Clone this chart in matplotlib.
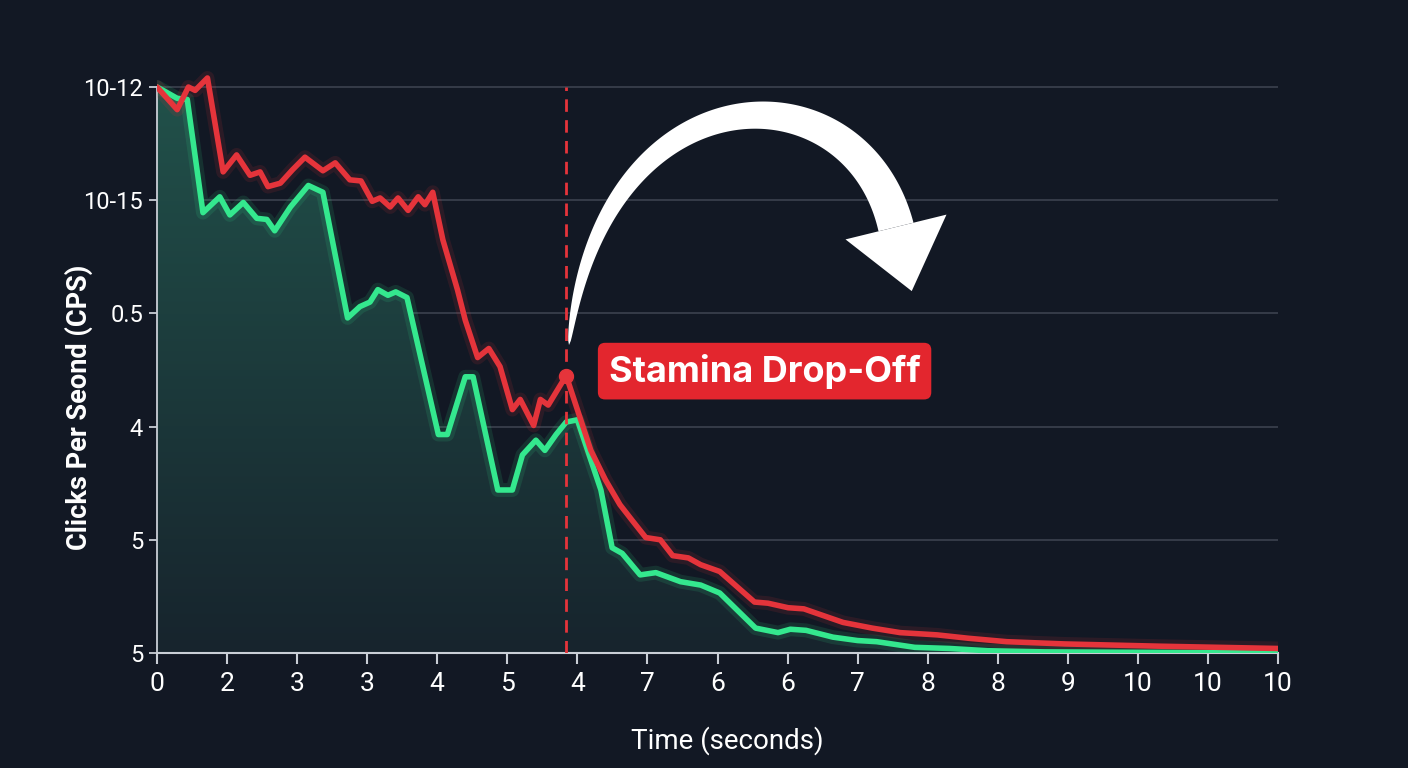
import numpy as np
import matplotlib.pyplot as plt
from matplotlib.patches import Polygon

# ---- data ----
red_t = [0.00, 0.18, 0.28, 0.34, 0.45, 0.59, 0.71, 0.83, 0.92, 0.99, 1.10, 1.21, 1.32,
         1.48, 1.59, 1.72, 1.82, 1.92, 1.99, 2.08, 2.15, 2.24, 2.33, 2.39, 2.46, 2.55,
         2.68, 2.75, 2.86, 2.96, 3.06, 3.17, 3.24, 3.36, 3.42, 3.49, 3.65, 3.87, 4.00,
         4.13, 4.24, 4.36, 4.49, 4.60, 4.74, 4.85, 5.02, 5.33, 5.45, 5.63, 5.77, 6.12,
         6.38, 6.63, 6.96, 7.24, 7.58, 8.10, 8.95, 10.0]
red_cps = [5.00, 4.80, 5.00, 4.97, 5.08, 4.25, 4.40, 4.22, 4.25, 4.12, 4.15, 4.27, 4.38,
           4.26, 4.33, 4.18, 4.17, 3.99, 4.02, 3.94, 4.02, 3.91, 4.03, 3.96, 4.07, 3.65,
           3.21, 2.94, 2.61, 2.69, 2.53, 2.15, 2.24, 2.01, 2.24, 2.19, 2.45, 1.79, 1.53,
           1.31, 1.17, 1.02, 1.00, 0.86, 0.84, 0.78, 0.72, 0.45, 0.44, 0.40, 0.39, 0.27,
           0.22, 0.18, 0.16, 0.13, 0.10, 0.08, 0.06, 0.04]

green_t = [0.00, 0.18, 0.27, 0.41, 0.56, 0.65, 0.77, 0.89, 0.98, 1.05, 1.19, 1.35, 1.48,
           1.70, 1.81, 1.90, 1.97, 2.06, 2.13, 2.23, 2.51, 2.59, 2.75, 2.82, 3.04, 3.17,
           3.26, 3.38, 3.46, 3.56, 3.65, 3.75, 3.96, 4.06, 4.15, 4.31, 4.45, 4.67, 4.85,
           5.02, 5.34, 5.54, 5.65, 5.79, 6.03, 6.25, 6.42, 6.76, 7.07, 7.41, 7.92, 10.0]
green_cps = [5.00, 4.90, 4.89, 3.89, 4.03, 3.87, 3.98, 3.84, 3.83, 3.73, 3.94, 4.13, 4.07,
             2.96, 3.06, 3.10, 3.21, 3.16, 3.19, 3.14, 1.93, 1.93, 2.44, 2.44, 1.44, 1.44,
             1.75, 1.88, 1.79, 1.93, 2.04, 2.06, 1.44, 0.93, 0.88, 0.69, 0.71, 0.63, 0.60,
             0.53, 0.22, 0.18, 0.21, 0.20, 0.14, 0.11, 0.10, 0.05, 0.04, 0.02, 0.01, 0.00]

x_tick_labels = ["0", "2", "3", "3", "4", "5", "4", "7", "6", "6", "7", "8", "8",
                 "9", "10", "10", "10"]
y_tick_labels = ["5", "5", "4", "0.5", "10-15", "10-12"]

drop_t = 3.65
drop_cps = 2.45
label_text = "Stamina Drop-Off"

# ---- style ----
bg = "#121824"
red = "#e5343b"
green = "#34e88e"
plt.rcParams["font.family"] = ["Roboto", "DejaVu Sans"]

fig = plt.figure(figsize=(14.08, 7.68), dpi=100, facecolor=bg)
ax = fig.add_axes([157 / 1408, 1 - 653 / 768, 1121 / 1408, 5.2 * 113.2 / 768])
ax.set_facecolor(bg)
ax.set_xlim(0, 10)
ax.set_ylim(0, 5.2)

# grid + axes
ax.set_yticks(range(6))
ax.set_yticklabels(y_tick_labels)
ax.set_xticks(np.linspace(0, 10, 17))
ax.set_xticklabels(x_tick_labels)
ax.yaxis.grid(True, color="#3b424f", linewidth=1.2)
ax.set_axisbelow(True)
for s in ["top", "right"]:
    ax.spines[s].set_visible(False)
ax.spines["left"].set_bounds(0, 5)
ax.spines["left"].set_color("#c9ced6")
ax.spines["bottom"].set_color("#c9ced6")
ax.spines["left"].set_linewidth(1.3)
ax.spines["bottom"].set_linewidth(1.5)
ax.tick_params(axis="x", colors="#c9ced6", length=8, width=1.5, labelsize=19,
               labelcolor="white", pad=6)
ax.tick_params(axis="y", colors="#c9ced6", length=6, width=1.3, labelsize=17,
               labelcolor="white", pad=4)

ax.set_xlabel("Time (seconds)", color="white", fontsize=20)
ax.xaxis.set_label_coords(0.509, -0.124)
ax.set_ylabel("Clicks Per Seond (CPS)", color="white", fontsize=19.5,
              fontweight="bold")
ax.yaxis.set_label_coords(-0.057, 0.418)

# gradient fill under the green line
poly = ax.fill_between(green_t, green_cps, 0, color="none")
grad = np.linspace(0, 1, 256).reshape(-1, 1)
cmap = plt.matplotlib.colors.LinearSegmentedColormap.from_list(
    "g", ["#17242d", "#21514a"])
img = ax.imshow(grad, extent=[0, 10, 0, 5], origin="lower", aspect="auto",
                cmap=cmap, zorder=1)
path = poly.get_paths()[0]
img.set_clip_path(path, transform=ax.transData)

# lines with a soft glow
for t, v, c in [(green_t, green_cps, green), (red_t, red_cps, red)]:
    ax.plot(t, v, color=c, lw=10, alpha=0.12, solid_capstyle="round", zorder=3)
    ax.plot(t, v, color=c, lw=4.0, solid_joinstyle="round",
            solid_capstyle="round", zorder=4)

# drop-off marker
ax.plot([drop_t, drop_t], [0, 5], color=red, lw=2.0,
        linestyle=(0, (4.5, 3)), zorder=5)
ax.plot(drop_t, drop_cps, "o", color=red, ms=10, zorder=6)

ax.text(5.42, 2.49, label_text, color="white", fontsize=26, fontweight="bold",
        family=["Inter", "DejaVu Sans"], ha="center", va="center", zorder=7,
        bbox=dict(boxstyle="round,pad=0.3,rounding_size=0.2", fc="#e3262e",
                  ec="none"))

# curved white arrow (decoration, pixel coordinates)
ov = fig.add_axes([0, 0, 1, 1], zorder=10)
ov.set_xlim(0, 1408)
ov.set_ylim(768, 0)
ov.axis("off")
ov.patch.set_alpha(0)

P = np.array([[569, 345], [600, 65], [855, 60], [896, 227]], float)
tt = np.linspace(0, 1, 200)[:, None]
B = ((1 - tt) ** 3 * P[0] + 3 * (1 - tt) ** 2 * tt * P[1]
     + 3 * (1 - tt) * tt ** 2 * P[2] + tt ** 3 * P[3])
dB = (3 * (1 - tt) ** 2 * (P[1] - P[0]) + 6 * (1 - tt) * tt * (P[2] - P[1])
      + 3 * tt ** 2 * (P[3] - P[2]))
d = dB / np.linalg.norm(dB, axis=1, keepdims=True)
n = np.column_stack([-d[:, 1], d[:, 0]])
w = 18 * tt ** 0.5
outer = B - n * w
inner = B + n * w
ov.add_patch(Polygon(np.vstack([outer, inner[::-1]]), closed=True,
                     fc="white", ec="none"))
end, de, ne = B[-1], d[-1], n[-1]
head = np.array([end + ne * 52, end + de * 66, end - ne * 52])
ov.add_patch(Polygon(head, closed=True, fc="white", ec="none"))

fig.savefig("out.png", dpi=100, facecolor=bg)
